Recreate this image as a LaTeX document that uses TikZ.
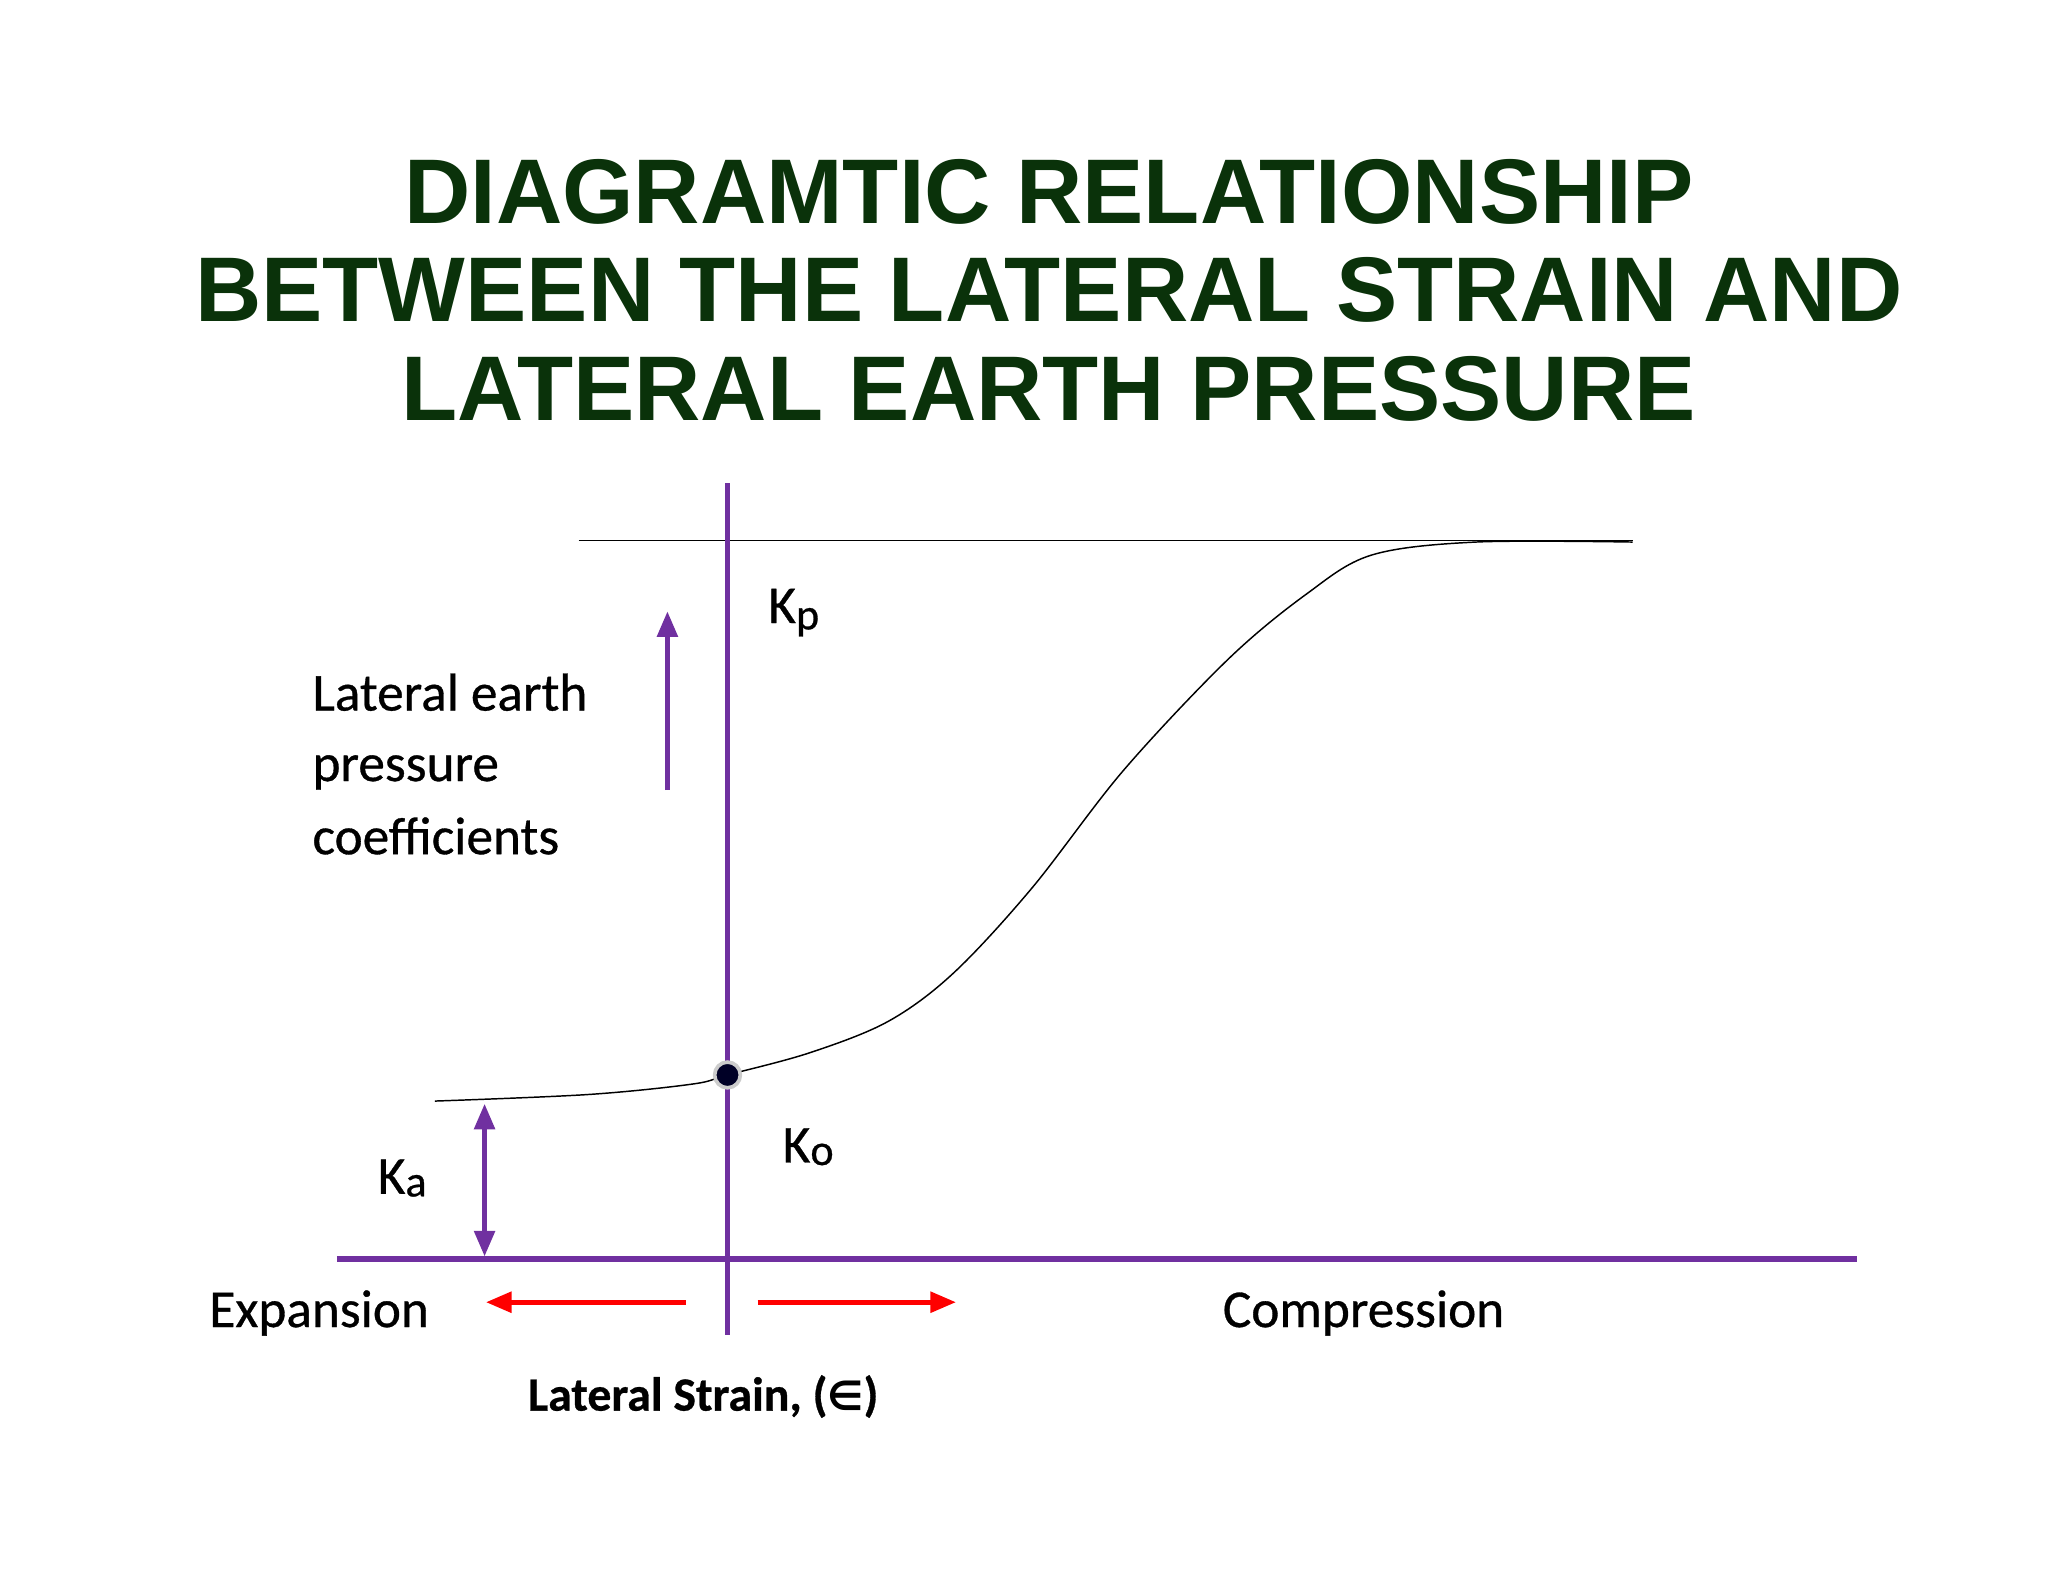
\documentclass[tikz,border=0pt]{standalone}
\usepackage{fontspec}
\setmainfont{Liberation Sans}
\newfontfamily\lblfont[FakeBold=0.6]{Carlito}
\newfontfamily\djfont{DejaVu Sans}
\usetikzlibrary{arrows.meta}
\definecolor{ttl}{RGB}{10,50,10}
\definecolor{axp}{RGB}{112,48,160}
\tikzset{
 ttlstyle/.style={font=\fontsize{50}{60}\selectfont\bfseries,text=ttl,inner sep=0},
 lab/.style={font=\lblfont\fontsize{29}{34}\selectfont,anchor=base west,inner sep=0},
 axis/.style={draw=axp,line width=3.2pt},
 parr/.style={draw=axp,line width=2.8pt,-{Triangle[length=14pt,width=11pt]}},
 rarr/.style={draw=red,line width=2.8pt,-{Triangle[length=14pt,width=11pt]}},
}
\begin{document}
\begin{tikzpicture}[x=0.025cm,y=-0.025cm]
\useasboundingbox (0,0) rectangle (1568,1211);
\node[ttlstyle] (t1) at (803,147) {DIAGRAMTIC RELATIONSHIP};
\node[ttlstyle] (t2) at (803,222) {BETWEEN THE LATERAL STRAIN AND};
\node[ttlstyle] (t3) at (803,298) {LATERAL EARTH PRESSURE};
\coordinate (h1) at (443,414); \coordinate (h2) at (1250,414);
\draw[line width=0.8pt] (h1) -- (h2);
\draw[line width=0.8pt] plot[smooth,tension=0.55] coordinates {(333,843) (450,838) (530,830) (557,823) (620,806) (680,782) (730,745) (790,680) (860,590) (940,505) (1000,455) (1050,425) (1130,415) (1250,415)};
\coordinate (v1) at (557,370); \coordinate (v2) at (557,1022);
\draw[axis] (v1) -- (v2);
\coordinate (x1) at (258,964); \coordinate (x2) at (1422,964);
\draw[axis] (x1) -- (x2);
\node[circle,draw=gray!40,line width=2pt,fill=black!85!blue,minimum width=14pt,inner sep=0] (dot) at (557,823) {};
\coordinate (u1) at (511,605); \coordinate (u2) at (511,468);
\draw[parr] (u1) -- (u2);
\coordinate (a1) at (371,845); \coordinate (a2) at (371,962);
\draw[parr,{Triangle[length=14pt,width=11pt]}-{Triangle[length=14pt,width=11pt]}] (a1) -- (a2);
\coordinate (r1) at (525,997); \coordinate (r2) at (372,997);
\draw[rarr] (r1) -- (r2);
\coordinate (r3) at (580,997); \coordinate (r4) at (732,997);
\draw[rarr] (r3) -- (r4);
\node[lab] (kp) at (588,477) {K\raisebox{-0.25ex}{\fontsize{24}{28}\selectfont p}};
\node[lab] (ko) at (599,890) {K\raisebox{-0.1ex}{\fontsize{24}{28}\selectfont o}};
\node[lab] (ka) at (289,914) {K\raisebox{-0.1ex}{\fontsize{24}{28}\selectfont a}};
\node[lab] (l1) at (239,544) {Lateral earth};
\node[lab] (l2) at (239,598) {pressure};
\node[lab] (l3) at (239,654) {coefficients};
\node[lab] (ex) at (160,1016) {Expansion};
\node[lab] (co) at (936,1016) {Compression};
\node[lab,font=\lblfont\bfseries\fontsize{26}{30}\selectfont] (ls) at (404,1080) {Lateral Strain, ({\djfont\fontsize{22}{26}\selectfont ∈})};
\end{tikzpicture}
\end{document}
